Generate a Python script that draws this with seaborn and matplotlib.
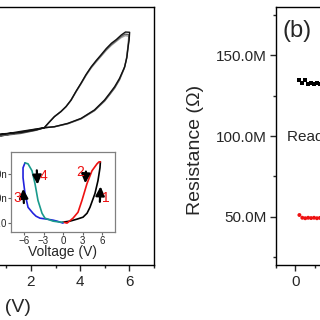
import matplotlib
matplotlib.use("Agg")
import matplotlib.pyplot as plt
import matplotlib.ticker as mticker
import numpy as np
import pandas as pd
import seaborn as sns

sns.set_theme(style="ticks")
plt.rcParams['font.family'] = ['Liberation Sans', 'DejaVu Sans']
plt.rcParams['axes.edgecolor'] = 'black'
plt.rcParams['axes.linewidth'] = 1.0

# ---------------- data: panel (a) main I-V loops (three cycles) ----------------
cycle1_v = [0.0, 0.78, 1.59, 2.54, 2.95, 3.50, 4.04, 4.58, 4.99, 5.18, 5.40, 5.60, 5.81, 5.90, 5.95, 5.99, 6.01,
            5.84, 5.67, 5.47, 5.27, 5.06, 4.86, 4.65, 4.45, 4.24, 4.04, 3.84, 3.63, 3.43, 3.22, 2.95, 2.73, 2.54,
            2.20, 1.59, 0.78, 0.0]
cycle1_i = [0.0, 0.010, 0.036, 0.064, 0.072, 0.098, 0.137, 0.202, 0.279, 0.326, 0.382, 0.447, 0.537, 0.612, 0.692, 0.744, 0.804,
            0.806, 0.783, 0.748, 0.719, 0.678, 0.632, 0.585, 0.537, 0.477, 0.411, 0.349, 0.279, 0.229, 0.190, 0.150, 0.105, 0.064,
            0.047, 0.027, 0.016, 0.008]
cycle2_v = [0.0, 0.78, 1.59, 2.54, 2.95, 3.50, 4.04, 4.58, 4.99, 5.18, 5.40, 5.60, 5.79, 5.88, 5.93, 5.96, 5.98,
            5.82, 5.65, 5.46, 5.26, 5.05, 4.85, 4.64, 4.44, 4.23, 4.03, 3.83, 3.62, 3.42, 3.21, 2.95, 2.73, 2.54,
            2.20, 1.59, 0.78, 0.0]
cycle2_i = [-0.006, 0.0, 0.030, 0.064, 0.071, 0.095, 0.133, 0.196, 0.270, 0.316, 0.371, 0.436, 0.524, 0.598, 0.676, 0.728, 0.786,
            0.790, 0.770, 0.738, 0.708, 0.668, 0.623, 0.577, 0.530, 0.471, 0.406, 0.345, 0.276, 0.227, 0.188, 0.149, 0.104, 0.064,
            0.044, 0.020, 0.002, -0.006]
cycle3_v = [0.0, 0.78, 1.59, 2.54, 2.95, 3.50, 4.04, 4.58, 4.99, 5.18, 5.40, 5.60, 5.80, 5.89, 5.94, 5.97, 5.99,
            5.83, 5.66, 5.46, 5.27, 5.06, 4.86, 4.65, 4.45, 4.24, 4.04, 3.84, 3.63, 3.43, 3.22, 2.95, 2.73, 2.54,
            2.20, 1.59, 0.78, 0.0]
cycle3_i = [0.0, 0.004, 0.032, 0.064, 0.072, 0.097, 0.135, 0.199, 0.274, 0.320, 0.376, 0.441, 0.530, 0.604, 0.683, 0.735, 0.773,
            0.778, 0.762, 0.732, 0.703, 0.664, 0.620, 0.574, 0.528, 0.469, 0.405, 0.344, 0.276, 0.228, 0.189, 0.150, 0.104, 0.064,
            0.045, 0.024, 0.010, 0.004]

# ---------------- data: inset (four sweep branches, current in nA) ----------------
b1_v = [0.0, 1.08, 2.15, 3.08, 3.70, 4.15, 4.92, 5.38, 5.69, 5.75]
b1_i = [0.08, 0.16, 0.32, 0.48, 0.80, 1.28, 2.40, 3.44, 4.48, 4.96]
b2_v = [5.75, 5.54, 5.23, 4.46, 3.69, 2.92, 2.31, 1.54, 0.62, 0.0]
b2_i = [4.96, 4.96, 4.80, 4.24, 3.20, 1.84, 0.88, 0.40, 0.0, 0.08]
b3_v = [0.0, -0.92, -1.54, -2.46, -3.54, -4.15, -4.62, -5.38, -5.85, -6.15, -6.15, -5.85]
b3_i = [0.0, 0.16, 0.24, 0.32, 0.40, 0.56, 0.80, 1.28, 2.40, 3.68, 4.48, 4.88]
b4_v = [-5.85, -5.38, -4.77, -4.31, -3.85, -3.23, -2.77, -1.54, -0.46, 0.0]
b4_i = [4.88, 4.80, 4.24, 3.20, 1.84, 0.80, 0.40, 0.16, 0.08, 0.08]

# ---------------- data: panel (b) endurance ----------------
cycles_b = [2, 3.5, 5, 6.5, 8, 9.5, 11, 12.5]
hrs_m = [134.7, 133.0, 134.5, 132.3, 133.0, 132.0, 133.0, 132.5]
lrs_m = [51.0, 49.3, 49.0, 49.3, 49.1, 49.3, 49.0, 49.2]

W = H = 320
fig = plt.figure(figsize=(3.2, 3.2), dpi=100)

def fx(px):
    return px / W

def fy(py):
    return 1 - py / H

# ---------------- panel (a) ----------------
axa = fig.add_axes([fx(-190.5), fy(265), (154 + 190.5) / W, 258 / H])
df_a = pd.concat([
    pd.DataFrame({"V": cycle3_v, "I": cycle3_i, "cycle": "3"}),
    pd.DataFrame({"V": cycle2_v, "I": cycle2_i, "cycle": "2"}),
    pd.DataFrame({"V": cycle1_v, "I": cycle1_i, "cycle": "1"}),
])
sns.lineplot(data=df_a, x="V", y="I", hue="cycle", sort=False, estimator=None,
             palette={"1": "#111111", "2": "#606060", "3": "#a0a0a0"},
             linewidth=1.0, legend=False, ax=axa)
axa.set_xlim(-7, 7)
axa.set_ylim(-1, 1)
axa.set_xticks([-6, -4, -2, 0, 2, 4, 6])
axa.xaxis.set_minor_locator(mticker.MultipleLocator(1))
axa.set_yticks([-1.0, -0.5, 0.0, 0.5, 1.0])
axa.yaxis.set_minor_locator(mticker.MultipleLocator(0.25))
axa.tick_params(axis='both', which='major', direction='out', length=4, width=1, labelsize=11, pad=3)
axa.tick_params(axis='both', which='minor', direction='out', length=2.5, width=1)
axa.set_xlabel("")
axa.set_ylabel("Current (arb. units)", fontsize=14)
for s in axa.spines.values():
    s.set_visible(True)
    s.set_color('black')
    s.set_linewidth(1.0)
fig.text(fx(-17.5), fy(308), "Voltage (V)", fontsize=14, ha='center', va='center')

# ---------------- inset ----------------
axi = fig.add_axes([fx(11), fy(232), 104 / W, 80 / H])
df_i = pd.concat([
    pd.DataFrame({"V": b1_v, "I": b1_i, "branch": "1"}),
    pd.DataFrame({"V": b2_v, "I": b2_i, "branch": "2"}),
    pd.DataFrame({"V": b3_v, "I": b3_i, "branch": "3"}),
    pd.DataFrame({"V": b4_v, "I": b4_i, "branch": "4"}),
])
sns.lineplot(data=df_i, x="V", y="I", hue="branch", sort=False, estimator=None,
             palette={"1": "black", "2": "#ee1111", "3": "#2222dd", "4": "#199a8c"},
             linewidth=1.2, legend=False, ax=axi)
axi.set_xlim(-8, 8)
axi.set_ylim(-0.72, 5.76)
axi.set_xticks([-6, -3, 0, 3, 6])
axi.set_yticks([0, 2, 4])
axi.yaxis.set_major_formatter(mticker.FuncFormatter(lambda v, p: "0.0" if v == 0 else f"{v:.1f}n"))
axi.tick_params(axis='both', direction='out', length=2, width=0.8, labelsize=7, pad=0.8, color='#666666')
axi.set_xlabel("Voltage (V)", fontsize=10, labelpad=-0.5)
axi.set_ylabel("")
for s in axi.spines.values():
    s.set_visible(True)
    s.set_color('#808080')
    s.set_linewidth(0.9)

arrows = [((5.65, 1.5), (5.8, 3.2)), ((3.55, 4.4), (3.4, 3.0)),
          ((-6.0, 1.4), (-6.15, 3.0)), ((-4.05, 4.5), (-3.9, 2.9))]
for (x0, y0), (x1, y1) in arrows:
    axi.annotate("", xy=(x1, y1), xytext=(x0, y0),
                 arrowprops=dict(arrowstyle="-|>,head_width=0.22,head_length=0.45",
                                 color="black", lw=1.6))
for txt, (x, y) in [("1", (6.6, 2.0)), ("2", (2.7, 4.1)), ("3", (-7.1, 2.0)), ("4", (-3.0, 3.8))]:
    axi.text(x, y, txt, color="#ee1111", fontsize=10, ha='center', va='center')

# ---------------- panel (b) ----------------
axb = fig.add_axes([fx(276), fy(265), 300 / W, 258 / H])
df_b = pd.DataFrame({"cycle": cycles_b + cycles_b,
                     "R": [v * 1e6 for v in hrs_m] + [v * 1e6 for v in lrs_m],
                     "state": ["HRS"] * len(cycles_b) + ["LRS"] * len(cycles_b)})
sns.scatterplot(data=df_b, x="cycle", y="R", hue="state", style="state",
                markers={"HRS": "s", "LRS": "o"},
                palette={"HRS": "black", "LRS": "#ee1111"},
                s=8, linewidth=0, legend=False, ax=axb)
axb.set_xlim(-10, 143.85)
axb.set_ylim(20e6, 180e6)
axb.set_xticks([0, 20, 40, 60, 80, 100, 120, 140])
axb.xaxis.set_minor_locator(mticker.MultipleLocator(10))
axb.set_yticks([50e6, 100e6, 150e6])
axb.yaxis.set_minor_locator(mticker.MultipleLocator(25e6))
axb.yaxis.set_major_formatter(mticker.FuncFormatter(lambda v, p: f"{v/1e6:.1f}M"))
axb.tick_params(axis='both', which='major', direction='out', length=4, width=1, labelsize=11, pad=3)
axb.tick_params(axis='both', which='minor', direction='out', length=2.5, width=1)
axb.set_xlabel("Cycle number", fontsize=14)
axb.set_ylabel("")
for s in axb.spines.values():
    s.set_visible(True)
    s.set_color('black')
    s.set_linewidth(1.0)
fig.text(fx(195), fy(150), "Resistance (\u03a9)", rotation=90, fontsize=14, ha='center', va='center')
axb.text(6 / 300, (265 - 31) / 258, "(b)", transform=axb.transAxes,
         fontsize=17, ha='left', va='center')
axb.text(11 / 300, (265 - 137) / 258, "Read at 0.1 V", transform=axb.transAxes,
         fontsize=11, ha='left', va='center')

fig.savefig("out.png", dpi=100)
